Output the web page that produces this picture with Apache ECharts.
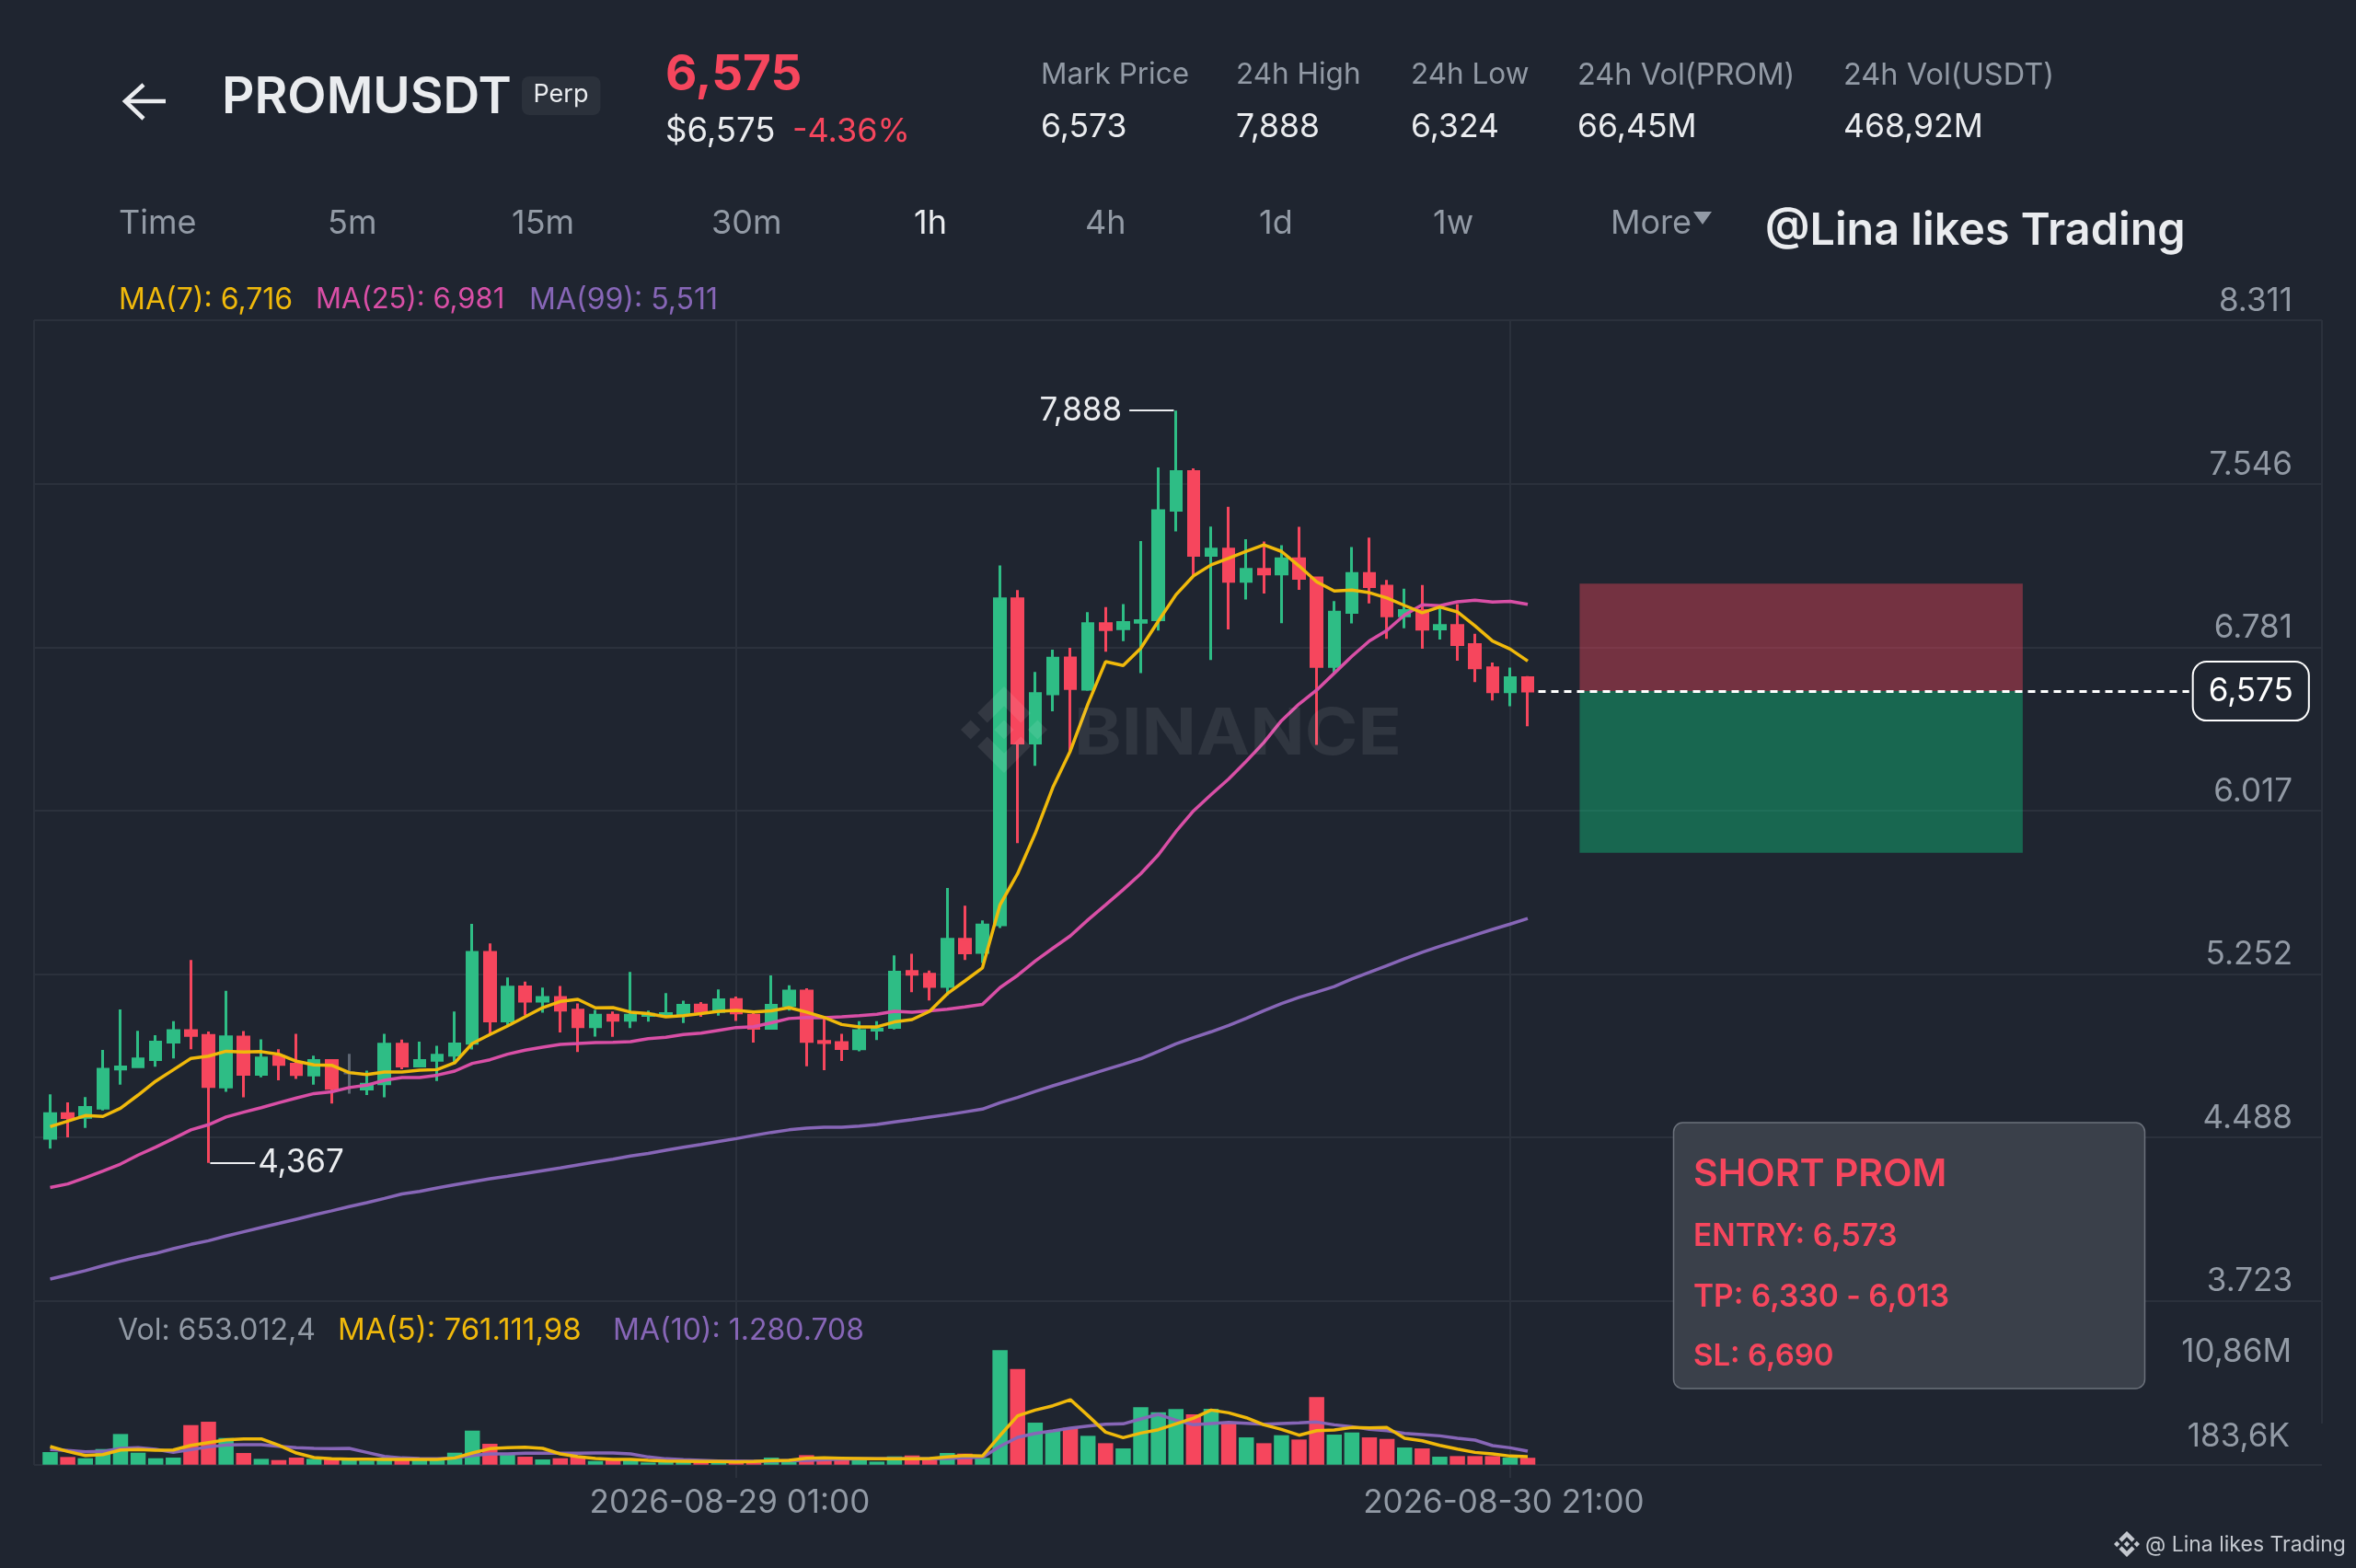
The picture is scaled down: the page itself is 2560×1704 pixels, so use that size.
<!DOCTYPE html>
<html>
<head>
<meta charset="utf-8">
<title>PROMUSDT Perp</title>
<style>html,body{margin:0;padding:0;background:#1f2530}#c{width:2560px;height:1704px}</style>
<script src="https://cdn.jsdelivr.net/npm/echarts@6/dist/echarts.min.js"></script>
</head>
<body>
<div id="c"></div>
<script>
// Chart data
var opens=[4.483,4.598,4.581,4.624,4.807,4.818,4.851,4.933,4.986,4.964,4.723,4.956,4.782,4.865,4.829,4.779,4.847,4.788,4.713,4.738,4.923,4.821,4.848,4.871,4.927,5.352,5.032,5.191,5.124,5.141,5.082,5.005,5.059,5.035,5.058,5.062,5.065,5.106,5.076,5.132,5.059,4.997,5.104,5.172,4.936,4.931,4.901,4.989,5.002,5.263,5.250,5.193,5.414,5.353,5.482,7.007,6.332,6.563,6.731,6.584,6.891,6.867,6.897,6.909,7.422,7.603,7.211,7.240,7.089,7.145,7.123,7.195,7.105,6.691,6.944,7.126,7.066,6.928,6.952,6.866,6.882,6.793,6.684,6.572,6.638];
var closes=[4.598,4.580,4.627,4.806,4.816,4.854,4.933,4.986,4.964,4.725,4.957,4.782,4.858,4.828,4.781,4.847,4.716,4.788,4.736,4.923,4.821,4.847,4.871,4.924,5.352,5.032,5.190,5.124,5.142,5.082,5.005,5.059,5.035,5.059,5.063,5.066,5.105,5.076,5.131,5.069,4.997,5.105,5.172,4.936,4.930,4.903,4.987,4.994,5.260,5.250,5.193,5.414,5.350,5.481,7.007,6.332,6.564,6.729,6.587,6.891,6.863,6.896,6.905,7.420,7.603,7.211,7.240,7.089,7.145,7.123,7.195,7.103,6.691,6.945,7.126,7.064,6.928,6.952,6.865,6.882,6.793,6.684,6.572,6.638,6.575];
var lows=[4.434,4.487,4.531,4.613,4.733,4.812,4.817,4.856,4.899,4.367,4.700,4.674,4.768,4.754,4.760,4.734,4.645,4.692,4.685,4.674,4.806,4.814,4.751,4.829,4.898,4.972,5.011,5.058,5.070,4.978,4.886,4.958,4.957,4.998,5.028,5.047,5.022,5.051,5.057,5.032,4.931,4.991,5.080,4.820,4.801,4.844,4.890,4.942,4.992,5.166,5.127,5.152,5.317,5.303,5.467,5.864,6.226,6.481,6.287,6.577,6.760,6.809,6.660,6.859,7.323,7.111,6.721,6.864,7.004,7.032,6.893,7.049,6.324,6.662,6.892,6.986,6.820,6.869,6.774,6.817,6.718,6.617,6.531,6.505,6.411];
var highs=[4.688,4.651,4.675,4.896,5.086,4.985,4.965,5.031,5.317,4.982,5.173,4.984,4.946,4.899,4.971,4.869,4.853,4.878,4.799,4.971,4.944,4.935,4.915,5.076,5.486,5.394,5.235,5.216,5.188,5.195,5.113,5.083,5.076,5.261,5.080,5.162,5.126,5.120,5.179,5.146,5.080,5.245,5.199,5.185,5.044,4.971,5.031,5.031,5.338,5.346,5.267,5.654,5.571,5.502,7.163,7.048,6.665,6.769,6.778,6.945,6.969,6.982,7.277,7.622,7.888,7.618,7.345,7.438,7.286,7.275,7.258,7.344,7.111,6.996,7.249,7.294,7.095,7.055,7.072,6.968,6.982,6.844,6.709,6.685,6.645];
var ma7=[4.537,4.563,4.589,4.585,4.623,4.685,4.750,4.803,4.856,4.867,4.890,4.886,4.888,4.876,4.843,4.826,4.824,4.790,4.781,4.793,4.793,4.801,4.804,4.836,4.926,4.968,5.008,5.051,5.094,5.123,5.133,5.093,5.094,5.073,5.066,5.051,5.056,5.066,5.077,5.081,5.074,5.079,5.094,5.073,5.048,5.015,5.004,5.004,5.027,5.038,5.077,5.159,5.219,5.280,5.575,5.721,5.909,6.124,6.296,6.516,6.713,6.695,6.776,6.903,7.026,7.115,7.166,7.197,7.230,7.260,7.229,7.161,7.087,7.044,7.048,7.036,7.011,6.976,6.942,6.969,6.946,6.881,6.810,6.772,6.716];
var ma25=[4.252,4.269,4.298,4.329,4.362,4.404,4.441,4.481,4.522,4.546,4.582,4.605,4.626,4.649,4.671,4.692,4.700,4.720,4.731,4.754,4.767,4.767,4.778,4.797,4.833,4.850,4.876,4.895,4.909,4.922,4.926,4.931,4.932,4.935,4.949,4.955,4.968,4.975,4.988,5.001,5.005,5.023,5.043,5.048,5.047,5.051,5.056,5.063,5.077,5.073,5.079,5.087,5.097,5.109,5.188,5.245,5.312,5.372,5.430,5.505,5.575,5.646,5.721,5.809,5.918,6.015,6.091,6.164,6.247,6.335,6.437,6.515,6.580,6.659,6.738,6.810,6.860,6.932,6.979,6.975,6.993,7.001,6.992,6.995,6.981];
var ma99=[3.824,3.843,3.863,3.886,3.907,3.927,3.944,3.966,3.986,4.003,4.025,4.045,4.065,4.084,4.104,4.124,4.143,4.163,4.181,4.201,4.222,4.234,4.250,4.265,4.279,4.293,4.305,4.318,4.331,4.344,4.358,4.372,4.385,4.400,4.412,4.427,4.441,4.454,4.468,4.481,4.496,4.510,4.522,4.530,4.534,4.534,4.540,4.547,4.559,4.570,4.582,4.593,4.606,4.619,4.649,4.674,4.702,4.728,4.753,4.778,4.804,4.829,4.855,4.889,4.925,4.954,4.981,5.011,5.044,5.080,5.113,5.142,5.167,5.193,5.228,5.259,5.291,5.323,5.353,5.381,5.407,5.434,5.460,5.485,5.511];
var volumes=[1.193,0.728,0.611,1.484,2.910,1.135,0.611,0.669,3.754,4.074,2.532,1.106,0.553,0.437,0.669,0.553,0.495,0.437,0.378,0.669,0.437,0.437,0.437,1.135,3.230,1.979,0.960,0.757,0.495,0.611,0.786,0.349,0.437,0.553,0.204,0.320,0.291,0.291,0.204,0.262,0.262,0.669,0.291,0.902,0.728,0.669,0.669,0.291,0.786,0.873,0.640,1.106,1.048,0.640,10.860,9.079,3.987,3.201,3.492,2.735,2.037,1.542,5.442,4.976,5.267,4.772,5.296,4.074,2.590,2.037,2.794,2.386,6.402,2.852,3.056,2.590,2.444,1.630,1.542,0.757,0.815,0.815,0.815,0.669,0.653];
var volMa5=[1.717,1.251,0.873,0.960,1.397,1.426,1.368,1.397,1.833,2.095,2.357,2.444,2.444,1.833,1.106,0.669,0.553,0.524,0.524,0.495,0.495,0.495,0.495,0.640,1.106,1.513,1.601,1.659,1.542,1.019,0.757,0.582,0.495,0.495,0.407,0.349,0.320,0.291,0.291,0.262,0.291,0.378,0.407,0.611,0.640,0.611,0.582,0.553,0.553,0.553,0.582,0.728,0.873,0.815,2.765,4.627,5.180,5.587,6.169,4.656,3.085,2.561,2.997,3.317,3.870,4.423,5.180,4.918,4.452,3.783,3.347,2.794,3.230,3.288,3.521,3.492,3.521,2.503,2.270,1.833,1.484,1.164,1.019,0.815,0.761];
var volMa10=[1.426,1.339,1.222,1.251,1.542,1.601,1.455,1.164,1.426,1.688,1.862,1.892,1.892,1.746,1.601,1.542,1.513,1.542,1.164,0.786,0.640,0.582,0.553,0.640,0.873,1.019,1.019,1.077,1.077,1.077,1.077,1.106,1.106,1.019,0.728,0.553,0.466,0.407,0.349,0.349,0.320,0.349,0.378,0.407,0.466,0.524,0.553,0.553,0.553,0.553,0.553,0.582,0.669,0.698,1.746,2.590,2.968,3.201,3.463,3.667,3.841,3.870,4.336,4.772,4.220,3.783,3.899,4.016,3.929,3.841,3.899,3.958,4.045,3.783,3.608,3.347,3.230,2.968,2.852,2.735,2.503,2.328,1.804,1.601,1.281];
var priceTicks=[3.723,4.488,5.252,6.017,6.781,7.546,8.311];
var timeLabels=[[39,'2026-08-29 01:00'],[83,'2026-08-30 21:00']];
var volTickLabels=['10,86M','183,6K'];
var lastPrice=6.575, highPoint=[64,7.888,'7,888'], lowPoint=[9,4.367,'4,367'];
var positionLevels=[7.078,6.575,5.819];

var UP='#2EBD85',DOWN='#F6465D',GRAY='#929AA5',WHITE='#EAECEF',BG='#1f2530',GRID='#2b313c',
    Y='#F0B90B',P='#D94FA6',V='#8766B7',FF='Inter';
var idx=function(a){return a.map(function(v,i){return [i,v];});};
var timeOf={};timeLabels.forEach(function(t){timeOf[t[0]]=t[1];});
var candles=opens.map(function(o,i){return [i,o,closes[i],lows[i],highs[i]];});
var volBars=volumes.map(function(v,i){return {value:[i,v],itemStyle:{color:closes[i]>=opens[i]?UP:DOWN}};});
var maLine=function(name,d,c,xi,yi){return {name:name,type:'line',data:idx(d),xAxisIndex:xi,yAxisIndex:yi,showSymbol:false,silent:true,smooth:false,z:5,lineStyle:{color:c,width:3.5},itemStyle:{color:c}};};

function T(t,x,y,size,fill,weight,align){return {type:'text',z:120,silent:true,style:{text:t,x:x,y:y,font:(weight||400)+' '+size+'px '+FF,fill:fill,textAlign:align||'left',textVerticalAlign:'middle'}};}
function logo(cx,cy,r,fill,z){
  var pts=[[[0,-.226],[.226,0],[0,.226],[-.226,0]],[[-.774,-.226],[-.548,0],[-.774,.226],[-1,0]],[[.774,-.226],[1,0],[.774,.226],[.548,0]],
    [[-.388,-.16],[0,-.548],[.389,-.159],[.615,-.385],[0,-1],[-.614,-.386]],[[-.388,.16],[0,.548],[.389,.159],[.615,.385],[0,1],[-.614,.386]]];
  return pts.map(function(p){return {type:'polygon',z:z,silent:true,shape:{points:p.map(function(q){return [cx+q[0]*r,cy+q[1]*r];})},style:{fill:fill}};});
}
var g=[];
// back arrow
g.push({type:'polyline',z:120,silent:true,shape:{points:[[156,92],[136,110],[156,129]]},style:{stroke:WHITE,lineWidth:4.5,fill:null}});
g.push({type:'line',z:120,silent:true,shape:{x1:137,y1:110,x2:180,y2:110},style:{stroke:WHITE,lineWidth:4.5}});
g.push(T('PROMUSDT',241,106,55,WHITE,600));
g.push({type:'rect',z:110,silent:true,shape:{x:567,y:83,width:85.5,height:42,r:8},style:{fill:'#2b313b'}});
g.push(T('Perp',609.5,103,27,WHITE,400,'center'));
g.push(T('6,575',723,82,53,DOWN,700));
g.push(T('$6,575',723,143,36.5,WHITE));
g.push(T('-4.36%',861,143,36,DOWN));
[['Mark Price','6,573',1131],['24h High','7,888',1343],['24h Low','6,324',1533],['24h Vol(PROM)','66,45M',1714],['24h Vol(USDT)','468,92M',2003]].forEach(function(s){
  g.push(T(s[0],s[2],82,s[0].indexOf('Vol')>0?32.5:31.5,GRAY));g.push(T(s[1],s[2],138,35.5,WHITE));
});
[['Time',129],['5m',356],['15m',556],['30m',773],['1h',993],['4h',1179],['1d',1368],['1w',1557],['More',1750]].forEach(function(s){
  g.push(T(s[0],s[1],243,36,s[0]==='1h'?WHITE:GRAY));
});
g.push({type:'polygon',z:120,silent:true,shape:{points:[[1840,230],[1860,230],[1850,244]]},style:{fill:GRAY}});
g.push(T('@Lina likes Trading',1918,251,48.5,WHITE,600));
g.push(T('MA(7): 6,716',129,326,32,Y));g.push(T('MA(25): 6,981',343,326,31,P));g.push(T('MA(99): 5,511',575,326,32,V));
g.push(T('Vol: 653.012,4',128,1446,32,GRAY));g.push(T('MA(5): 761.111,98',367,1446,33,Y));g.push(T('MA(10): 1.280.708',666,1446,32,V));
g.push(T(volTickLabels[0],2490,1469,35,GRAY,400,'right'));g.push(T(volTickLabels[1],2488,1561,35,GRAY,400,'right'));
// pane frame in the volume pane
g.push({type:'line',z:1,silent:true,shape:{x1:37,y1:1414,x2:37,y2:1592},style:{stroke:GRID,lineWidth:2}});
g.push({type:'line',z:1,silent:true,shape:{x1:2523,y1:1414,x2:2523,y2:1547},style:{stroke:GRID,lineWidth:2}});
// info box
g.push({type:'rect',z:110,silent:true,shape:{x:1818.5,y:1220,width:512,height:289,r:10},style:{fill:'#3a404a',stroke:'#6b717b',lineWidth:1.5}});
g.push(T('SHORT PROM',1840,1277,41,DOWN,600));
g.push(T('ENTRY: 6,573',1840,1344,33.5,DOWN,600));
g.push(T('TP: 6,330 - 6,013',1840,1410,33.5,DOWN,600));
g.push(T('SL: 6,690',1840,1474,33,DOWN,600));
// watermark
g=g.concat(logo(1091,793,47,'rgba(255,255,255,0.09)',100));
g.push({type:'text',z:100,silent:true,scaleX:1.115,originX:1167,originY:799,style:{text:'BINANCE',x:1167,y:799,font:'700 70px '+FF,fill:'rgba(255,255,255,0.08)',textVerticalAlign:'middle'}});
// footer
g=g.concat(logo(2311,1678,14,'#C4C8CF',120));
g.push(T('@ Lina likes Trading',2331,1679,23,'#C4C8CF'));

var option={
  backgroundColor:BG,animation:false,
  grid:[{left:37,width:2486,top:348,height:1065.4},{left:37,width:2486,top:1414,height:192}],
  xAxis:[0,1].map(function(n){return {
    type:'value',gridIndex:n,min:-0.9155,max:129.15,
    axisLine:{show:false},
    axisTick:{show:false,customValues:n?[39,83]:[-0.9155,39,83,129.15]},
    splitLine:{show:true,lineStyle:{color:GRID,width:2}},
    axisLabel:n?{show:true,customValues:[39,83],color:GRAY,fontSize:35,fontFamily:FF,margin:10,padding:[0,14,0,0],formatter:function(v){return timeOf[v]||'';}}:{show:false}
  };}),
  yAxis:[
    {type:'value',gridIndex:0,position:'right',min:3.723,max:8.311,
     axisLine:{show:false},axisTick:{show:false,customValues:priceTicks},
     splitLine:{show:true,lineStyle:{color:GRID,width:2}},
     axisLabel:{inside:true,customValues:priceTicks,margin:32,color:GRAY,fontSize:35,fontFamily:FF,verticalAlign:'bottom',padding:[0,0,3,0],formatter:function(v){return v.toFixed(3);}}},
    {type:'value',gridIndex:1,position:'right',min:-1.248,max:15.513,
     axisLine:{show:false},axisTick:{show:false,customValues:[0]},
     splitLine:{show:true,lineStyle:{color:GRID,width:2}},axisLabel:{show:false}}
  ],
  series:[
    {name:'PROMUSDT',type:'candlestick',xAxisIndex:0,yAxisIndex:0,data:candles,barWidth:12,z:3,silent:true,
     itemStyle:{color:UP,color0:DOWN,borderColor:UP,borderColor0:DOWN,borderColorDoji:'#5E6673',borderWidth:3},
     markArea:{silent:true,z:1,data:[
       [{coord:[86.95,positionLevels[0]],itemStyle:{color:'rgba(246,70,93,0.4)'}},{coord:[112.14,positionLevels[1]]}],
       [{coord:[86.95,positionLevels[1]],itemStyle:{color:'rgba(14,203,129,0.4)'}},{coord:[112.14,positionLevels[2]]}]
     ]},
     markLine:{silent:true,symbol:'none',animation:false,precision:3,z:6,data:[
       [{coord:[84.6,lastPrice],lineStyle:{color:'#FFFFFF',width:3,type:[8,6]},label:{show:true,position:'end',formatter:'6,575',distance:5,color:'#FFFFFF',fontSize:35,fontFamily:FF,backgroundColor:BG,borderColor:'#FFFFFF',borderWidth:2,borderRadius:14,padding:[15,16,12,16]}},{coord:[121.6,lastPrice]}],
       [{coord:[highPoint[0]-0.12,highPoint[1]],lineStyle:{color:WHITE,width:2,type:'solid'},label:{show:true,position:'end',formatter:highPoint[2],distance:8,color:WHITE,fontSize:35,fontFamily:FF,padding:[4,0,0,0]}},{coord:[highPoint[0]-2.65,highPoint[1]]}],
       [{coord:[lowPoint[0]+0.1,lowPoint[1]],lineStyle:{color:WHITE,width:2,type:'solid'},label:{show:true,position:'end',formatter:lowPoint[2],distance:3,color:WHITE,fontSize:35,fontFamily:FF,padding:[5,0,0,0]}},{coord:[lowPoint[0]+2.65,lowPoint[1]]}]
     ]}},
    maLine('MA(99)',ma99,V,0,0),
    maLine('MA(25)',ma25,P,0,0),
    maLine('MA(7)',ma7,Y,0,0),
    {name:'Vol',type:'bar',xAxisIndex:1,yAxisIndex:1,data:volBars,barWidth:16.5,silent:true,z:3},
    maLine('Vol MA(10)',volMa10,V,1,1),
    maLine('Vol MA(5)',volMa5,Y,1,1)
  ],
  graphic:{elements:g}
};
var chart=echarts.init(document.getElementById('c'),null,{width:2560,height:1704,devicePixelRatio:1});
chart.setOption(option);
</script>
</body>
</html>
